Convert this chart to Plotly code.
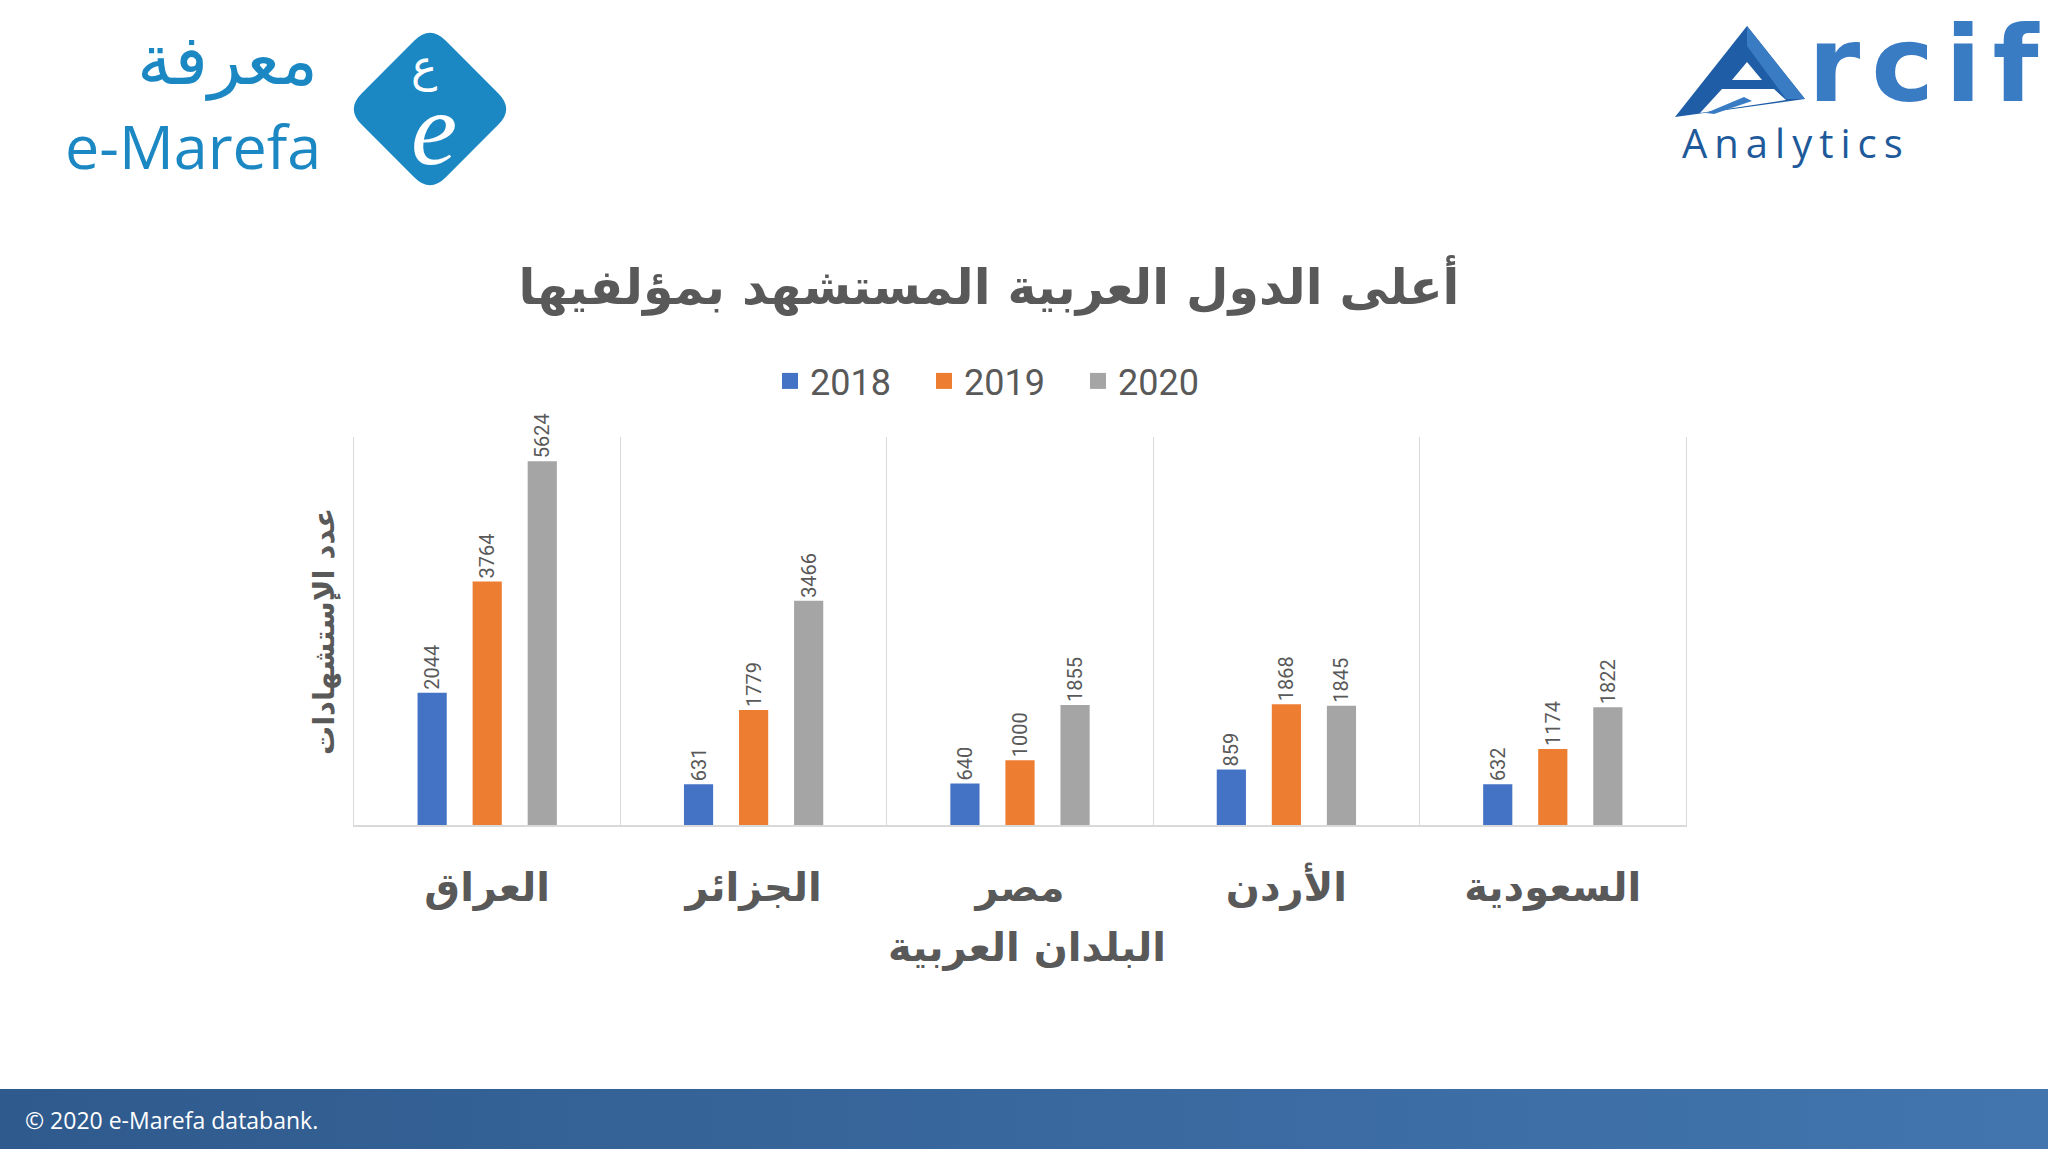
import base64
import plotly.graph_objects as go

# ---------------- data ----------------
countries = ["العراق", "الجزائر", "مصر", "الأردن", "السعودية"]
years = ["2018", "2019", "2020"]
v2018 = [2044, 631, 640, 859, 632]
v2019 = [3764, 1779, 1000, 1868, 1174]
v2020 = [5624, 3466, 1855, 1845, 1822]
colors = ["#4472C4", "#ED7D31", "#A5A5A5"]

title_text = "أعلى الدول العربية المستشهد بمؤلفيها"
x_title = "البلدان العربية"
y_title = "عدد الإستشهادات"
footer_text = "© 2020 e-Marefa databank."

# ---------------- geometry helpers ----------------
W, H = 2048, 1152
L, R, T, B = 354, 1686, 437, 825


def px(x):
    return (x - L) / (R - L)


def py(y):
    return (B - y) / (B - T)


def path(points, close=True):
    s = "M " + " L ".join(f"{px(a):.5f},{py(b):.5f}" for a, b in points)
    return s + (" Z" if close else "")


GRAY = "#595959"
ARABIC = "DejaVu Sans, Noto Sans, sans-serif"
LATIN = "Roboto, Open Sans, sans-serif"

fig = go.Figure()
for name, vals, col in zip(years, [v2018, v2019, v2020], colors):
    fig.add_trace(go.Bar(
        x=countries, y=vals, name=name, marker=dict(color=col, line=dict(width=0)),
        text=vals, texttemplate="%{y}", textposition="outside", textangle=-90,
        textfont=dict(family=LATIN, size=20, color=GRAY),
        constraintext="none", cliponaxis=False, showlegend=False, legendgroup=name,
    ))
# legend entries with larger square swatches
for name, col in zip(years, colors):
    fig.add_trace(go.Scatter(
        x=[None], y=[None], mode="markers", name=name, legendgroup=name,
        marker=dict(symbol="square", size=16, color=col), hoverinfo="skip",
    ))

fig.update_layout(
    width=W, height=H,
    margin=dict(l=L, r=W - R, t=T, b=H - B, pad=0),
    paper_bgcolor="white", plot_bgcolor="white",
    barmode="group", bargap=0.38, bargroupgap=0.47,
    showlegend=True,
    legend=dict(orientation="h", x=px(1001), xanchor="center", y=py(381), yanchor="middle",
                font=dict(family=LATIN, size=36, color=GRAY), traceorder="normal",
                entrywidth=109, entrywidthmode="pixels", itemsizing="trace"),
    title=dict(text="<b>" + title_text + "</b>", x=989 / W, xanchor="center",
               y=1 - 287 / H, yanchor="middle", yref="container",
               font=dict(family=ARABIC, size=49, color=GRAY)),
    xaxis=dict(type="category", categoryorder="array", categoryarray=countries,
               tickson="boundaries", showgrid=True, gridcolor="#D9D9D9",
               gridwidth=1, showline=True, linecolor="#D9D9D9", linewidth=2,
               ticks="", ticklabelstandoff=26,
               tickfont=dict(family=ARABIC, size=40, color=GRAY), tickprefix="<b>", ticksuffix="</b>",
               fixedrange=True),
    yaxis=dict(range=[0, 6000], showgrid=False, showticklabels=False, zeroline=False,
               showline=True, mirror=True, linecolor="#D9D9D9", linewidth=1, fixedrange=True),
)

# axis titles
fig.add_annotation(text="<b>" + x_title + "</b>", xref="paper", yref="paper",
                   x=px(1027), y=py(947), xanchor="center", yanchor="middle", showarrow=False,
                   font=dict(family=ARABIC, size=40, color=GRAY))
fig.add_annotation(text="<b>" + y_title + "</b>", xref="paper", yref="paper",
                   x=px(324), y=py(632), xanchor="center", yanchor="middle",
                   showarrow=False, textangle=-90,
                   font=dict(family=ARABIC, size=29, color=GRAY))

# ---------------- footer ----------------
svg = ('<svg xmlns="http://www.w3.org/2000/svg" width="2048" height="60" preserveAspectRatio="none">'
       '<defs><linearGradient id="g" x1="0" y1="0" x2="1" y2="0">'
       '<stop offset="0" stop-color="#2F5A8D"/><stop offset="1" stop-color="#4275AE"/>'
       '</linearGradient></defs><rect width="2048" height="60" fill="url(#g)"/></svg>')
src = "data:image/svg+xml;base64," + base64.b64encode(svg.encode()).decode()
fig.add_layout_image(source=src, xref="paper", yref="paper", x=px(0), y=py(1089),
                     sizex=px(W) - px(0), sizey=py(1089) - py(1149),
                     xanchor="left", yanchor="top", sizing="stretch", layer="below")
fig.add_annotation(text=footer_text, xref="paper", yref="paper", x=px(23), y=py(1120),
                   xanchor="left", yanchor="middle", showarrow=False,
                   font=dict(family="Open Sans, sans-serif", size=23, color="white"))

# ---------------- e-Marefa logo ----------------
BLUE1 = "#1B88C4"
cx, cy, hd, d = 430, 109, 84, 22
top, right, bot, left = (cx, cy - hd), (cx + hd, cy), (cx, cy + hd), (cx - hd, cy)


def lerp(p, q, t):
    return (p[0] + (q[0] - p[0]) * t, p[1] + (q[1] - p[1]) * t)


corners = [top, right, bot, left]
t = d / (hd * 1.414)
segs = []
for i in range(4):
    c = corners[i]
    prev = corners[i - 1]
    nxt = corners[(i + 1) % 4]
    segs.append((lerp(c, prev, t), c, lerp(c, nxt, t)))
pstr = f"M {px(segs[0][0][0]):.5f},{py(segs[0][0][1]):.5f} "
for a, c, b in segs:
    pstr += (f"L {px(a[0]):.5f},{py(a[1]):.5f} Q {px(c[0]):.5f},{py(c[1]):.5f} "
             f"{px(b[0]):.5f},{py(b[1]):.5f} ")
pstr += "Z"
fig.add_shape(type="path", path=pstr, xref="paper", yref="paper",
              fillcolor=BLUE1, line=dict(width=0), layer="below")
fig.add_annotation(text="<i>e</i>", xref="paper", yref="paper", x=px(434), y=py(128),
                   xanchor="center", yanchor="middle", showarrow=False,
                   font=dict(family="Liberation Serif, DejaVu Serif, serif", size=104, color="#FFFFFF"))
fig.add_annotation(text="ع", xref="paper", yref="paper", x=px(424), y=py(66),
                   xanchor="center", yanchor="middle", showarrow=False,
                   font=dict(family=ARABIC, size=44, color="#FFFFFF"))
fig.add_annotation(text="معرفة", xref="paper", yref="paper", x=px(320), y=py(60),
                   xanchor="right", yanchor="middle", showarrow=False,
                   font=dict(family=ARABIC, size=70, color=BLUE1))
fig.add_annotation(text="e-Marefa", xref="paper", yref="paper", x=px(63), y=py(145),
                   xanchor="left", yanchor="middle", showarrow=False,
                   font=dict(family="Open Sans, sans-serif", size=61, color=BLUE1))

# ---------------- Arcif logo ----------------
DARK = "#1F5EA6"
LIGHT = "#3A7CC4"
fig.add_shape(type="path", path=path([(1747, 26), (1805, 99), (1675, 117)]),
              xref="paper", yref="paper", fillcolor=DARK, line=dict(width=0))
fig.add_shape(type="path", path=path([(1747, 26), (1805, 99), (1786, 99), (1747, 46)]),
              xref="paper", yref="paper", fillcolor=LIGHT, line=dict(width=0))
fig.add_shape(type="path", path=path([(1732, 80), (1762, 80), (1747, 62)]),
              xref="paper", yref="paper", fillcolor="white", line=dict(width=0))
fig.add_shape(type="path", path=path([(1722, 89), (1774, 89), (1786, 100), (1700, 113)]),
              xref="paper", yref="paper", fillcolor="white", line=dict(width=0))
fig.add_shape(type="path", path=path([(1706, 113), (1744, 97), (1752, 101), (1714, 114)]),
              xref="paper", yref="paper", fillcolor=LIGHT, line=dict(width=0))
fig.add_annotation(text='<b><span style="letter-spacing:11px">rci</span>f</b>', xref="paper", yref="paper",
                   x=px(1806), y=py(64), xanchor="left", yanchor="middle", showarrow=False,
                   font=dict(family="DejaVu Sans, sans-serif", size=106, color=LIGHT))
fig.add_annotation(text='<span style="letter-spacing:7px">Analytics</span>', xref="paper", yref="paper",
                   x=px(1680), y=py(142), xanchor="left", yanchor="middle", showarrow=False,
                   font=dict(family="Open Sans, sans-serif", size=40, color="#1E5A9A"))

fig.write_html("out.html", include_plotlyjs=True, config={"displayModeBar": False})
